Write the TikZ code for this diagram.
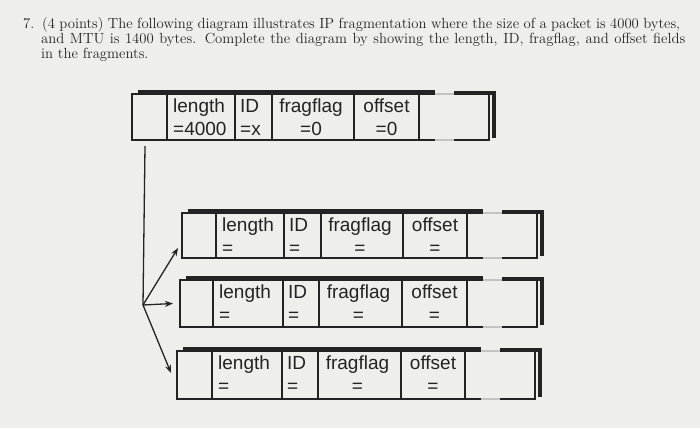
\documentclass[tikz,border=0pt]{standalone}
\usepackage{fontspec}
\newfontfamily\boxfont{Liberation Sans}
\usetikzlibrary{calc,arrows.meta}
\definecolor{bg}{RGB}{238,238,235}
\definecolor{ink}{RGB}{35,35,35}
\definecolor{faintc}{RGB}{195,195,192}
\tikzset{
  thinln/.style={draw=ink, line width=1.6pt},
  thickln/.style={draw=ink, line width=3.5pt},
  gapln/.style={draw=faintc, line width=1.2pt},
  cellnode/.style={inner sep=0pt, outer sep=0pt, draw=none},
  lbl/.style={inner sep=0pt, text=ink, font=\boxfont\fontsize{19}{21}\selectfont},
  qtext/.style={inner sep=0pt, text=ink, font=\fontsize{14.7}{15}\selectfont},
  arr/.style={draw=ink, line width=1.3pt, -{Stealth[length=8pt,width=6pt]}},
}
% #1 name, #2 L, #3 T, #4 B, #5..#9 dividers
\newcommand\pkt[9]{%
  \node[cellnode, minimum width={(#5-#2)*1pt}, minimum height={(#4-#3)*1pt}, anchor=north west] (#1a) at (#2,#3) {};
  \node[cellnode, minimum width={(#6-#5)*1pt}, minimum height={(#4-#3)*1pt}, anchor=north west] (#1len) at (#5,#3) {};
  \node[cellnode, minimum width={(#7-#6)*1pt}, minimum height={(#4-#3)*1pt}, anchor=north west] (#1id) at (#6,#3) {};
  \node[cellnode, minimum width={(#8-#7)*1pt}, minimum height={(#4-#3)*1pt}, anchor=north west] (#1ff) at (#7,#3) {};
  \node[cellnode, minimum width={(#9-#8)*1pt}, minimum height={(#4-#3)*1pt}, anchor=north west] (#1off) at (#8,#3) {};
  \draw[thinln] (#9+16,#3) -- (#2,#3) -- (#2,#4) -- (#9+16,#4);
  \draw[thinln] (#5,#3) -- (#5,#4) (#6,#3) -- (#6,#4) (#7,#3) -- (#7,#4) (#8,#3) -- (#8,#4) (#9,#3) -- (#9,#4);
  \draw[gapln] (#9+16,#3) -- (#9+35,#3) (#9+16,#4) -- (#9+35,#4);
  \draw[thinln] (#9+35,#3) -- (#9+70,#3) -- (#9+70,#4) -- (#9+35,#4);
  \draw[thickln] (#2+6,#3-2) -- (#9+16,#3-2);
  \draw[thickln] (#9+35,#3-1) -- (#9+75,#3-1) -- (#9+75,#4-2);
  \node[lbl, anchor=base west] (#1lenT) at ($(#1len.north west)+(6,18)$) {length};
  \node[lbl, anchor=base west] (#1idT) at ($(#1id.north west)+(5,18)$) {ID};
  \node[lbl, anchor=base] (#1ffT) at ($(#1ff.north)+(-2,18)$) {fragflag};
  \node[lbl, anchor=base] (#1offT) at ($(#1off.north)+(0,18)$) {offset};
}
% #1 name, #2..#5 values
\newcommand\pktvals[5]{%
  \node[lbl, anchor=base west] (#1lenV) at ($(#1len.north west)+(6,41)$) {#2};
  \node[lbl, anchor=base west] (#1idV) at ($(#1id.north west)+(5,41)$) {#3};
  \node[lbl, anchor=base] (#1ffV) at ($(#1ff.north)+(-2,41)$) {#4};
  \node[lbl, anchor=base] (#1offV) at ($(#1off.north)+(0,41)$) {#5};
}
\begin{document}
\begin{tikzpicture}[x=1pt,y=-1pt]
\fill[bg] (0,0) rectangle (700,428);
\useasboundingbox (0,0) rectangle (700,428);
\node[qtext, anchor=base west] (q0) at (23,28.5) {7.};
\node[qtext, anchor=base west] (q1) at (42,28.5) {\hbox to 638pt{(4 points) The following diagram illustrates IP fragmentation where the size of a packet is 4000 bytes,}};
\node[qtext, anchor=base west] (q2) at (41,43.5) {\hbox to 644pt{and MTU is 1400 bytes. Complete the diagram by showing the length, ID, fragflag, and offset fields}};
\node[qtext, anchor=base west] (q3) at (41,58) {in the fragments.};

\pkt{p0}{132}{94}{140}{167}{235}{272}{354}{419}
\pktvals{p0}{=4000}{=x}{=0}{=0}
\pkt{p1}{182}{213}{258}{216}{284}{321}{403}{467}
\pktvals{p1}{=}{=}{=}{=}
\pkt{p2}{180}{280}{327}{213}{283}{319}{402}{467}
\pktvals{p2}{=}{=}{=}{=}
\pkt{p3}{177}{351}{399}{212}{282}{318}{401}{465}
\pktvals{p3}{=}{=}{=}{=}

\coordinate (top) at ($(p0a.south west)+(13,6)$);
\coordinate (br) at (143,305);
\draw[thinln, line width=1.3pt] (top) -- (br);
\draw[arr] (br) -- ($(p1a.south west)+(-4,-10)$);
\draw[arr] (br) -- ($(p2a.west)+(-7,0)$);
\draw[arr] (br) -- ($(p3a.west)+(-6,-2)$);
\end{tikzpicture}
\end{document}
